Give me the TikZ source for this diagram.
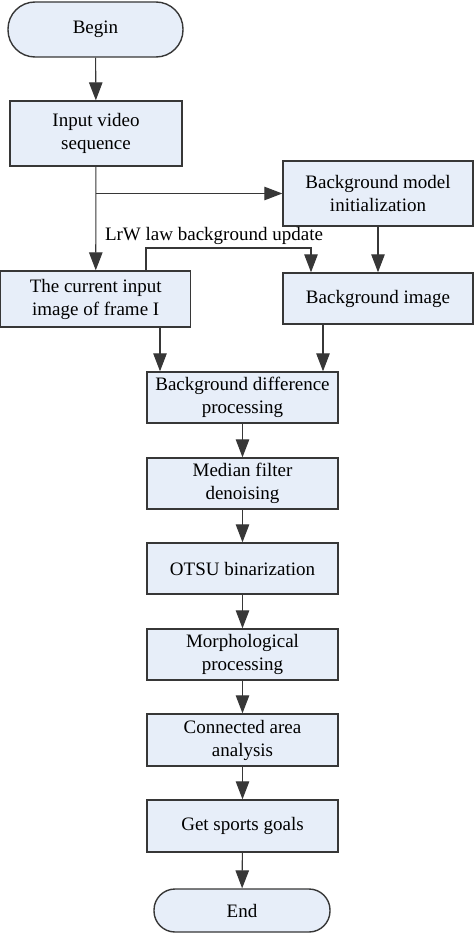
\documentclass[tikz,border=0pt]{standalone}
\usepackage{fontspec}
\setmainfont{Liberation Serif}
\usetikzlibrary{arrows.meta}
\definecolor{boxfill}{RGB}{231,238,249}
\definecolor{boxline}{RGB}{55,55,55}
\begin{document}
\begin{tikzpicture}[x=1pt,y=-1pt,
  box/.style={draw=boxline,fill=boxfill,line width=1.4pt,inner sep=0pt,align=center,
    font=\fontsize{19}{23}\selectfont,minimum width=191pt,minimum height=51pt},
  term/.style={box,rounded corners=#1},
  arr/.style={draw=boxline,line width=1.1pt,-{Triangle[length=18pt,width=13.5pt]}}]
\useasboundingbox (0,0) rectangle (474,934);
\node[term=27pt,minimum width=175pt,minimum height=55pt] (begin) at (95.5,29.5) {Begin};
\node[box,minimum width=172pt,minimum height=65pt] (input) at (96,133.5) {Input video\\sequence};
\node[box,minimum width=190pt,minimum height=65pt] (bgmodel) at (378,193.5) {Background model\\initialization};
\node[box,minimum width=190pt,minimum height=56pt] (cur) at (95.7,299) {The current input\\image of frame I};
\node[box,minimum width=190pt,minimum height=51pt] (bgimg) at (378,298.5) {Background image};
\node[box] (diff) at (242.5,397.5) {Background difference\\processing};
\node[box] (median) at (242.5,483.5) {Median filter\\denoising};
\node[box] (otsu) at (242.5,568.5) {OTSU binarization};
\node[box] (morph) at (242.5,654.5) {Morphological\\processing};
\node[box,minimum height=52pt] (conn) at (242.5,740) {Connected area\\analysis};
\node[box,minimum height=52pt] (get) at (242.5,826) {Get sports goals};
\node[term=21pt,minimum width=176pt,minimum height=43pt] (end) at (242,910.5) {End};
\node[font=\fontsize{19}{23}\selectfont,inner sep=0pt] (lrw) at (214,236) {LrW law background update};
\coordinate (split) at (96,193.5);
\coordinate (lrwA) at (146,248);
\coordinate (lrwB) at (311,248);
\coordinate (cA) at (160,350);
\coordinate (cB) at (323,350);
\draw[arr] (begin) -- (input);
\draw[arr] (input) -- (cur);
\draw[arr] (split) -- (split -| bgmodel.west);
\draw[arr] (bgmodel) -- (bgimg.north -| bgmodel);
\draw[arr] (cur.north -| lrwA) -- (lrwA) -- (lrwB) -- (bgimg.north -| lrwB);
\draw[arr] (cur.south -| cA) -- (diff.north -| cA);
\draw[arr] (bgimg.south -| cB) -- (diff.north -| cB);
\draw[arr] (diff) -- (median);
\draw[arr] (median) -- (otsu);
\draw[arr] (otsu) -- (morph);
\draw[arr] (morph) -- (conn);
\draw[arr] (conn) -- (get);
\draw[arr] (get) -- (end);
\end{tikzpicture}
\end{document}
